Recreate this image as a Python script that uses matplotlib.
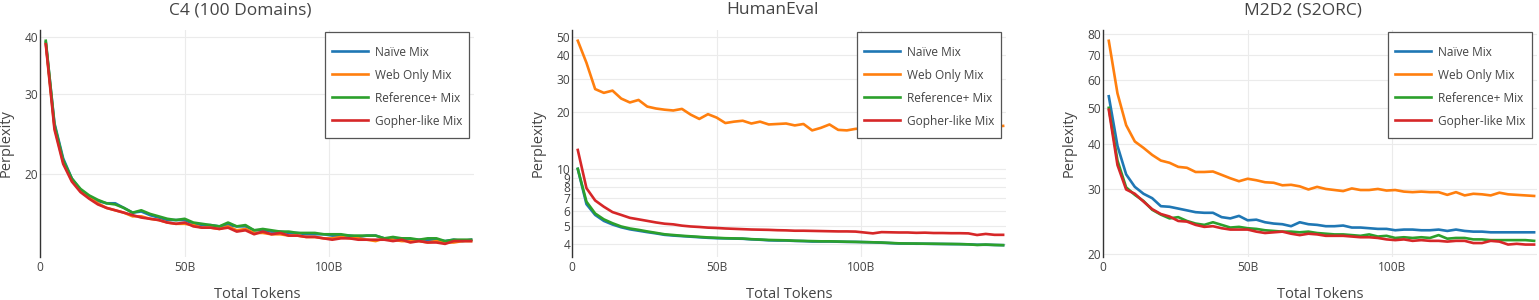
import matplotlib
matplotlib.use("Agg")
import matplotlib.pyplot as plt
from matplotlib.ticker import FixedLocator, NullLocator, FixedFormatter
from matplotlib.patches import Rectangle
from matplotlib.lines import Line2D

plt.rcParams['font.family'] = ['Open Sans', 'DejaVu Sans']

# ---------------- data ----------------
tokens_b = list(range(2, 150, 3))  # billions of tokens
series_names = ["Naïve Mix", "Web Only Mix", "Reference+ Mix", "Gopher-like Mix"]
series_colors = ["#1f77b4", "#ff7f0e", "#2ca02c", "#d62728"]
panel_titles = ["C4 (100 Domains)", "HumanEval", "M2D2 (S2ORC)"]

x_ticks = [0, 50, 100]
x_tick_labels = ["0", "50B", "100B"]

c4_naive = [38.9, 25.8, 21.6, 19.5, 18.4, 17.8, 17.4, 17.2, 17.2, 16.8,
            16.4, 16.5, 16.2, 16.0, 15.8, 15.8, 15.8, 15.5, 15.4, 15.4,
            15.3, 15.4, 15.3, 15.3, 15.0, 15.0, 14.9, 14.9, 14.8, 14.8,
            14.7, 14.7, 14.7, 14.6, 14.6, 14.6, 14.5, 14.6, 14.6, 14.4,
            14.4, 14.4, 14.3, 14.3, 14.3, 14.3, 14.2, 14.3, 14.2, 14.3]
c4_web = [38.7, 25.3, 21.2, 19.3, 18.3, 17.7, 17.2, 16.8, 16.6, 16.4,
          16.1, 16.1, 15.9, 15.8, 15.6, 15.5, 15.5, 15.4, 15.2, 15.2,
          15.1, 15.3, 15.0, 15.1, 14.8, 14.8, 14.7, 14.7, 14.6, 14.6,
          14.5, 14.5, 14.4, 14.4, 14.5, 14.4, 14.4, 14.3, 14.2, 14.4,
          14.3, 14.2, 14.2, 14.2, 14.1, 14.2, 14.1, 14.1, 14.2, 14.2]
c4_refplus = [39.2, 25.6, 21.4, 19.5, 18.5, 17.9, 17.5, 17.2, 17.1, 16.8,
              16.4, 16.6, 16.3, 16.1, 15.9, 15.8, 15.9, 15.6, 15.5, 15.4,
              15.3, 15.6, 15.3, 15.4, 15.0, 15.1, 15.0, 14.9, 14.9, 14.8,
              14.8, 14.8, 14.7, 14.7, 14.7, 14.6, 14.6, 14.6, 14.6, 14.4,
              14.5, 14.4, 14.4, 14.3, 14.4, 14.4, 14.2, 14.3, 14.3, 14.3]
c4_gopher = [38.5, 25.0, 21.0, 19.2, 18.2, 17.6, 17.1, 16.8, 16.6, 16.4,
             16.2, 16.0, 15.9, 15.8, 15.6, 15.5, 15.6, 15.3, 15.2, 15.2,
             15.1, 15.2, 14.9, 15.0, 14.7, 14.9, 14.7, 14.8, 14.6, 14.6,
             14.5, 14.5, 14.4, 14.3, 14.4, 14.4, 14.3, 14.3, 14.3, 14.3,
             14.2, 14.3, 14.1, 14.2, 14.1, 14.1, 14.0, 14.2, 14.2, 14.2]

he_naive = [10.0, 6.5, 5.7, 5.3, 5.07, 4.9, 4.78, 4.70, 4.62, 4.55,
            4.47, 4.43, 4.40, 4.37, 4.34, 4.31, 4.29, 4.28, 4.27, 4.26,
            4.23, 4.21, 4.18, 4.17, 4.17, 4.15, 4.14, 4.12, 4.12, 4.12,
            4.11, 4.10, 4.10, 4.09, 4.08, 4.06, 4.04, 4.02, 4.02, 4.01,
            4.01, 4.00, 4.00, 3.99, 3.99, 3.98, 3.96, 3.96, 3.95, 3.94]
he_web = [47.8, 36.5, 26.5, 25.3, 26.0, 23.6, 22.5, 23.2, 21.4, 20.9,
          20.6, 20.4, 20.8, 19.4, 18.4, 19.5, 18.7, 17.5, 17.8, 18.0,
          17.4, 17.8, 17.2, 17.3, 17.4, 17.0, 17.3, 16.0, 16.5, 17.2,
          16.1, 16.0, 16.3, 16.4, 16.6, 16.5, 16.7, 16.4, 16.6, 16.5,
          16.8, 16.6, 16.5, 16.7, 16.6, 16.8, 16.6, 16.8, 16.7, 16.9]
he_refplus = [10.0, 6.7, 5.8, 5.4, 5.15, 4.95, 4.83, 4.75, 4.66, 4.58,
              4.50, 4.46, 4.42, 4.39, 4.36, 4.33, 4.31, 4.29, 4.28, 4.27,
              4.24, 4.22, 4.20, 4.19, 4.18, 4.16, 4.15, 4.14, 4.13, 4.13,
              4.12, 4.11, 4.10, 4.09, 4.08, 4.07, 4.05, 4.03, 4.02, 4.02,
              4.01, 4.01, 4.00, 4.00, 3.99, 3.98, 3.95, 3.97, 3.95, 3.94]
he_gopher = [12.6, 7.9, 6.8, 6.3, 5.9, 5.7, 5.5, 5.4, 5.3, 5.2,
             5.12, 5.08, 5.0, 4.95, 4.92, 4.88, 4.86, 4.83, 4.81, 4.79,
             4.77, 4.76, 4.75, 4.73, 4.72, 4.70, 4.70, 4.69, 4.68, 4.67,
             4.66, 4.66, 4.65, 4.60, 4.55, 4.62, 4.61, 4.60, 4.60, 4.58,
             4.59, 4.57, 4.57, 4.56, 4.56, 4.55, 4.46, 4.52, 4.47, 4.47]

m2_naive = [54.0, 39.5, 33.0, 30.5, 29.2, 28.4, 27.0, 26.9, 26.6, 26.3,
            26.0, 25.9, 25.9, 25.2, 25.0, 25.4, 24.7, 24.8, 24.4, 24.2,
            24.1, 23.8, 24.4, 24.1, 24.0, 23.8, 23.8, 23.9, 23.6, 23.6,
            23.5, 23.4, 23.4, 23.2, 23.3, 23.3, 23.2, 23.2, 23.3, 23.1,
            23.3, 23.1, 23.0, 23.0, 22.9, 22.9, 22.9, 22.9, 22.9, 22.9]
m2_web = [76.6, 55.0, 45.0, 40.6, 39.0, 37.3, 36.0, 35.5, 34.6, 34.4,
          33.5, 33.5, 33.6, 32.9, 32.2, 31.6, 32.1, 31.8, 31.4, 31.3,
          30.8, 30.9, 30.6, 30.0, 30.5, 30.1, 29.9, 29.7, 30.2, 29.9,
          29.9, 30.1, 29.8, 29.9, 29.6, 29.5, 29.6, 29.5, 29.5, 29.0,
          29.5, 28.9, 29.2, 29.1, 28.9, 29.4, 29.1, 29.0, 28.9, 28.8]
m2_refplus = [50.2, 36.0, 30.4, 29.0, 27.9, 26.4, 25.6, 25.0, 25.2, 24.6,
              24.2, 24.0, 24.4, 24.0, 23.6, 23.7, 23.5, 23.4, 23.2, 23.1,
              23.0, 23.0, 22.9, 23.0, 22.8, 22.7, 22.6, 22.6, 22.5, 22.4,
              22.6, 22.3, 22.4, 22.1, 22.2, 22.1, 22.2, 22.1, 22.5, 22.0,
              22.1, 22.1, 21.9, 21.9, 21.8, 21.8, 21.8, 21.8, 21.8, 21.7]
m2_gopher = [49.6, 35.0, 30.0, 29.2, 27.8, 26.5, 25.7, 25.3, 24.6, 24.5,
             24.0, 23.7, 23.8, 23.5, 23.3, 23.3, 23.3, 23.0, 22.8, 22.9,
             23.0, 22.7, 22.5, 22.7, 22.6, 22.4, 22.4, 22.4, 22.3, 22.2,
             22.2, 22.1, 21.9, 21.8, 21.9, 21.7, 21.8, 21.7, 21.7, 21.6,
             21.7, 21.7, 21.4, 21.4, 21.7, 21.6, 21.2, 21.3, 21.2, 21.2]

c4_yticks = [20, 30, 40]
he_yticks = [4, 5, 6, 7, 8, 9, 10, 20, 30, 40, 50]
m2_yticks = [20, 30, 40, 50, 60, 70, 80]

panels = [
    (panel_titles[0], [c4_naive, c4_web, c4_refplus, c4_gopher], c4_yticks, (13.1, 41.4)),
    (panel_titles[1], [he_naive, he_web, he_refplus, he_gopher], he_yticks, (3.41, 54.5)),
    (panel_titles[2], [m2_naive, m2_web, m2_refplus, m2_gopher], m2_yticks, (19.6, 82.0)),
]

# ---------------- layout ----------------
W, H = 1539, 300
fig = plt.figure(figsize=(W / 100, H / 100), dpi=100)
lefts_px = [40, 572, 1103]
ax_w_px, top_px, bot_px = 434, 30, 257
text_col = "#444444"
tick_fs = 8.6
leg_fs = 8.6
lw_line = 1.9


def fx(px):
    return px / W


def fy(py):
    return 1 - py / H


for (title, data, yticks, ylim), lpx in zip(panels, lefts_px):
    ax = fig.add_axes([fx(lpx), fy(bot_px), ax_w_px / W, (bot_px - top_px) / H])
    for name, col, vals in zip(series_names, series_colors, data):
        ax.plot(tokens_b, vals, color=col, lw=lw_line, label=name, solid_joinstyle='round')
    ax.set_yscale('log')
    ax.set_xlim(0, 150)
    ax.set_ylim(*ylim)
    ax.yaxis.set_major_locator(FixedLocator(yticks))
    ax.yaxis.set_major_formatter(FixedFormatter([str(t) for t in yticks]))
    ax.yaxis.set_minor_locator(NullLocator())
    ax.set_xticks(x_ticks)
    ax.set_xticklabels(x_tick_labels)
    ax.grid(True, which='major', color='#ebebeb', lw=0.8)
    ax.set_axisbelow(True)
    for s in ['top', 'right', 'bottom']:
        ax.spines[s].set_visible(False)
    ax.spines['left'].set_color('#333333')
    ax.spines['left'].set_linewidth(1.0)
    ax.tick_params(axis='both', length=0, labelsize=tick_fs, labelcolor=text_col)
    ax.tick_params(axis='y', pad=1.2)
    ax.tick_params(axis='x', pad=3.0)

    # legend box (drawn on the figure, above the axes)
    lg_l, lg_t, lg_w, lg_h = lpx + 285, 32, 144, 106
    fig.add_artist(Rectangle((fx(lg_l), fy(lg_t + lg_h)), lg_w / W, lg_h / H,
                             transform=fig.transFigure, facecolor='white',
                             edgecolor='#555555', lw=0.9, zorder=5))
    for i, (name, col) in enumerate(zip(series_names, series_colors)):
        ry = lg_t + 19 + 23 * i
        fig.add_artist(Line2D([fx(lg_l + 7), fx(lg_l + 43)], [fy(ry), fy(ry)],
                              transform=fig.transFigure, color=col, lw=lw_line, zorder=6))
        fig.text(fx(lg_l + 50), fy(ry), name, ha='left', va='center_baseline',
                 fontsize=leg_fs, color=text_col, zorder=7)

    fig.text(fx(lpx + 200), fy(14.2), title, ha='center', va='baseline',
             fontsize=12.5, color=text_col)
    fig.text(fx(lpx + ax_w_px / 2), fy(298), "Total Tokens", ha='center', va='baseline',
             fontsize=10.5, color=text_col)
    fig.text(fx(lpx - 33.5), fy(143), "Perplexity", ha='center', va='center',
             rotation=90, fontsize=10.5, color=text_col)

fig.savefig("out.png", dpi=100)
